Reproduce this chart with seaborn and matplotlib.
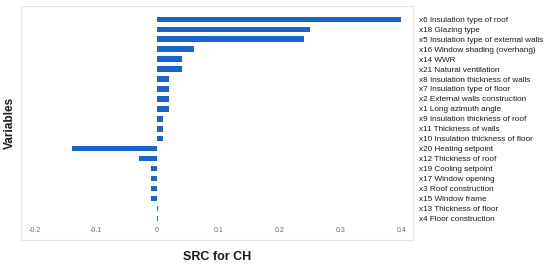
import matplotlib
matplotlib.use("Agg")
import matplotlib.pyplot as plt
import seaborn as sns
import pandas as pd

variables = [
    "x6 Insulation type of roof",
    "x18 Glazing type",
    "x5 Insulation type of external walls",
    "x16 Window shading (overhang)",
    "x14 WWR",
    "x21 Natural ventilation",
    "x8 Insulation thickness of walls",
    "x7 Insulation type of floor",
    "x2 External walls construction",
    "x1 Long azimuth angle",
    "x9 Insulation thickness of roof",
    "x11 Thickness of walls",
    "x10 Insulation thickness of floor",
    "x20 Heating setpoint",
    "x12 Thickness of roof",
    "x19 Cooling setpoint",
    "x17 Window opening",
    "x3 Roof construction",
    "x15 Window frame",
    "x13 Thickness of floor",
    "x4 Floor construction",
]
src_values = [0.40, 0.25, 0.24, 0.06, 0.04, 0.04, 0.02, 0.02, 0.02, 0.02,
              0.01, 0.01, 0.01, -0.14, -0.03, -0.01, -0.01, -0.01, -0.01,
              0.002, 0.002]
x_ticks = [-0.2, -0.1, 0, 0.1, 0.2, 0.3, 0.4]
x_tick_labels = ["-0.2", "-0.1", "0", "0.1", "0.2", "0.3", "0.4"]

df = pd.DataFrame({"Variables": variables, "SRC": src_values})

sns.set_theme(style="white")
plt.rcParams["font.family"] = ["Liberation Sans", "DejaVu Sans"]

fig = plt.figure(figsize=(5.5, 2.67), dpi=100)
ax = fig.add_axes([21 / 550, 27 / 267, 392 / 550, 234 / 267])

sns.barplot(data=df, x="SRC", y="Variables", orient="h", color="#1965c8",
            width=0.55, saturation=1, linewidth=0, ax=ax)

ax.set_xlim(-0.223, 0.419)
ax.set_ylim(22.18, -1.34)
ax.set_xticks(x_ticks)
ax.set_xticklabels(x_tick_labels)
ax.tick_params(axis="x", length=0, pad=-9, labelsize=5, labelcolor="#6b6b6b")
ax.yaxis.tick_right()
ax.tick_params(axis="y", length=0, pad=4.3, labelsize=5.9, labelcolor="#1a1a1a")
for lab in ax.get_yticklabels():
    lab.set_horizontalalignment("left")

for s in ax.spines.values():
    s.set_color("#e6e6e6")
    s.set_linewidth(0.8)

ax.set_xlabel("SRC for CH", fontsize=9, fontweight="bold", labelpad=8, color="#1a1a1a")
ax.set_ylabel("Variables", fontsize=8.5, fontweight="bold", labelpad=4, color="#1a1a1a")
ax.yaxis.set_label_position("left")

fig.savefig("out.png", dpi=100)
